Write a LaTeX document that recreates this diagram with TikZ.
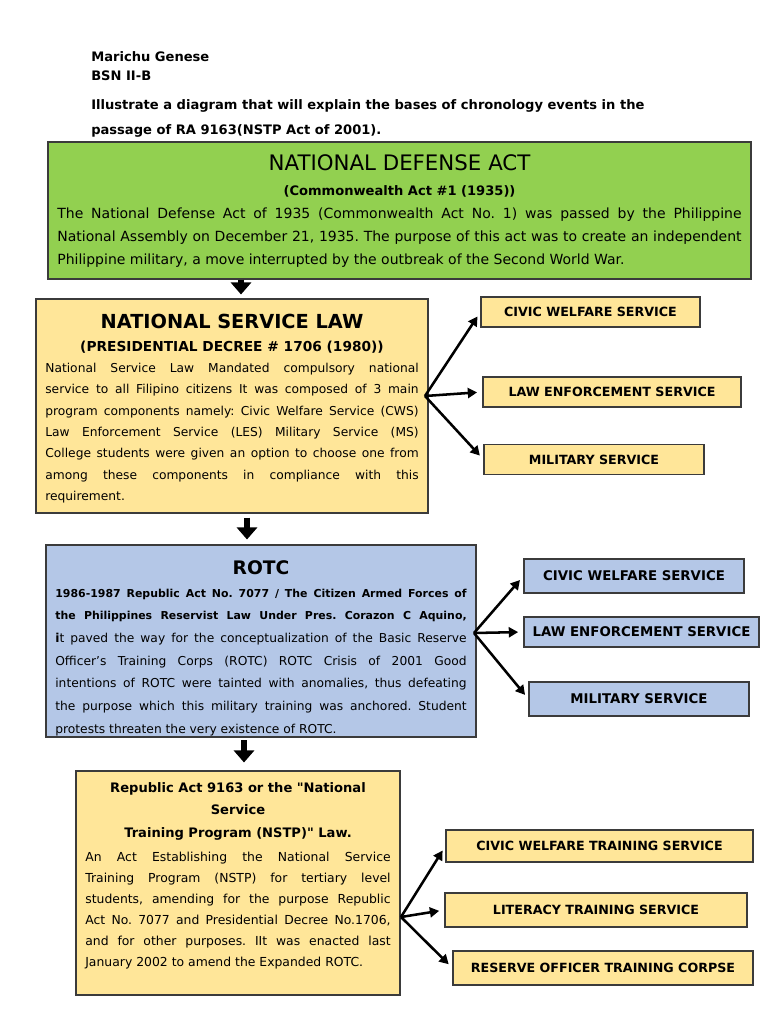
\documentclass[tikz,border=0pt]{standalone}
\usepackage{fontspec}
\setmainfont{DejaVu Sans}
\newfontfamily\quotefont{DejaVu Sans}
\newcommand{\straightquote}{{\quotefont"}}
\usepackage{tikz}
\usetikzlibrary{arrows.meta,positioning}
\definecolor{ndagreen}{HTML}{92D050}
\definecolor{nslyellow}{HTML}{FFE699}
\definecolor{rotcblue}{HTML}{B4C7E7}
\definecolor{boxline}{HTML}{3B3B3B}
\frenchspacing

\begin{document}
\begin{tikzpicture}[x=0.75pt, y=-0.75pt,
	headtext/.style={anchor=base west, inner sep=0pt, font=\bfseries\fontsize{9.8}{12}\selectfont},
	lawbox/.style={draw=boxline, line width=0.8pt, inner xsep=7pt, inner ysep=0pt, align=justify},
	branchbox/.style={draw=boxline, line width=0.8pt, inner sep=0pt, font=\bfseries\fontsize{9.5}{11}\selectfont},
	downarrow/.style={line width=4.5pt, -{Triangle[length=9pt,width=15pt]}},
	branch/.style={line width=1.9pt, -{Triangle[length=7pt,width=7.5pt]}, shorten >=4pt}]
	\useasboundingbox (0,0) rectangle (768,1024);
	\node[headtext] (author) at (91,62) {Marichu Genese};
	\node[headtext] (section) at (91,80) {BSN II-B};
	\node[headtext] (task) at (91,109) {Illustrate a diagram that will explain the bases of chronology events in the};
	\node[headtext] (taskend) at (91,134) {passage of RA 9163(NSTP Act of 2001).};
	\node[lawbox, fill=ndagreen, minimum width=527.25pt, text height=21pt, text depth=81.75pt, text width=513.25pt, font=\fontsize{10.5}{17.25}\selectfont] (nda) at (399.5,210.5)
	  {{\centering\fontsize{16}{18}\selectfont NATIONAL DEFENSE ACT\par}{\centering\bfseries\fontsize{9.8}{18.75}\selectfont (Commonwealth Act \#1 (1935))\par}The National Defense Act of 1935 (Commonwealth Act No. 1) was passed by the Philippine\linebreak National Assembly on December 21, 1935. The purpose of this act was to create an independent\linebreak Philippine military, a move interrupted by the outbreak of the Second World War.};
	\node[lawbox, fill=nslyellow, minimum width=294pt, text height=21.75pt, text depth=138.75pt, text width=280pt, font=\fontsize{9.2}{16}\selectfont] (nsl) at (232,406)
	  {{\centering\bfseries\fontsize{14.5}{16}\selectfont NATIONAL SERVICE LAW\par}{\centering\bfseries\fontsize{10.3}{17.25}\selectfont (PRESIDENTIAL DECREE \# 1706 (1980))\par}National Service Law Mandated compulsory national\linebreak service to all Filipino citizens It was composed of 3 main\linebreak program components namely: Civic Welfare Service (CWS)\linebreak Law Enforcement Service (LES) Military Service (MS)\linebreak College students were given an option to choose one from\linebreak among these components in compliance with this\linebreak requirement.};
	\node[lawbox, fill=rotcblue, minimum width=322.5pt, text height=22pt, text depth=122pt, text width=308.5pt, font=\fontsize{9.2}{17}\selectfont] (rotc) at (261,641)
	  {{\centering\bfseries\fontsize{14}{16}\selectfont ROTC\par}{\bfseries\fontsize{8.2}{17}\selectfont 1986-1987 Republic Act No. 7077 / The Citizen Armed Forces of\linebreak the Philippines Reservist Law Under Pres. Corazon C Aquino,}\linebreak{\bfseries i}t paved the way for the conceptualization of the Basic Reserve\linebreak Officer's Training Corps (ROTC) ROTC Crisis of 2001 Good\linebreak intentions of ROTC were tainted with anomalies, thus defeating\linebreak the purpose which this military training was anchored. Student\linebreak protests threaten the very existence of ROTC.};
	\node[lawbox, fill=nslyellow, minimum width=243pt, text height=15.75pt, text depth=152.25pt, text width=229pt, font=\fontsize{9.3}{15.75}\selectfont] (nstp) at (238,883)
	  {{\centering\bfseries\fontsize{9.8}{17}\selectfont Republic Act 9163 or the \straightquote National\\ Service\\ Training Program (NSTP)\straightquote{} Law.\par}\vspace{2.5pt}An Act Establishing the National Service\linebreak Training Program (NSTP) for tertiary level\linebreak students, amending for the purpose Republic\linebreak Act No. 7077 and Presidential Decree No.1706,\linebreak and for other purposes. IIt was enacted last\linebreak January 2002 to amend the Expanded ROTC.};
	\node[branchbox, fill=nslyellow, minimum width=164.25pt, minimum height=22.5pt] (nslcws) at (590.5,312) {CIVIC WELFARE SERVICE};
	\node[branchbox, fill=nslyellow, minimum width=193.5pt, minimum height=22.5pt] (nslles) at (612,392) {LAW ENFORCEMENT SERVICE};
	\node[branchbox, fill=nslyellow, minimum width=165pt, minimum height=23pt] (nslms) at (594,459.5) {MILITARY SERVICE};
	\node[branchbox, fill=rotcblue, minimum width=165pt, minimum height=25.5pt, font=\bfseries\fontsize{10}{12}\selectfont] (rotccws) at (634,576) {CIVIC WELFARE SERVICE};
	\node[branchbox, fill=rotcblue, minimum width=176.25pt, minimum height=22.5pt, font=\bfseries\fontsize{10}{12}\selectfont] (rotcles) at (641.5,632) {LAW ENFORCEMENT SERVICE};
	\node[branchbox, fill=rotcblue, minimum width=165pt, minimum height=25.5pt, font=\bfseries\fontsize{10}{12}\selectfont] (rotcms) at (639,699) {MILITARY SERVICE};
	\node[branchbox, fill=nslyellow, minimum width=230.25pt, minimum height=24pt] (nstpcwts) at (599.5,846) {CIVIC WELFARE TRAINING SERVICE};
	\node[branchbox, fill=nslyellow, minimum width=226.5pt, minimum height=25.5pt] (nstplts) at (596,910) {LITERACY TRAINING SERVICE};
	\node[branchbox, fill=nslyellow, minimum width=225pt, minimum height=25.5pt] (nstprotc) at (603,968) {RESERVE OFFICER TRAINING CORPSE};
	\coordinate (drop1) at (241,0);
	\coordinate (drop2) at (247,0);
	\coordinate (drop3) at (244,0);
	\draw[downarrow, shorten >=3pt] (nda.south -| drop1) -- (nsl.north -| drop1);
	\draw[downarrow, shorten <=3pt, shorten >=3.75pt] (nsl.south -| drop2) -- (rotc.north -| drop2);
	\draw[downarrow, shorten <=2pt, shorten >=6pt] (rotc.south -| drop3) -- (nstp.north -| drop3);
	\coordinate (nslfork) at (425,396);
	\coordinate (rotcfork) at (474,633);
	\coordinate (nstpfork) at (401,917);
	\draw[branch] (nslfork) -- (nslcws.west);
	\draw[branch] (nslfork) -- (nslles.west);
	\draw[branch] (nslfork) -- (nslms.west);
	\draw[branch] (rotcfork) -- (rotccws.west);
	\draw[branch] (rotcfork) -- (rotcles.west);
	\draw[branch] (rotcfork) -- (rotcms.west);
	\draw[branch] (nstpfork) -- (nstpcwts.west);
	\draw[branch] (nstpfork) -- (nstplts.west);
	\draw[branch] (nstpfork) -- (nstprotc.west);
\end{tikzpicture}
\end{document}
